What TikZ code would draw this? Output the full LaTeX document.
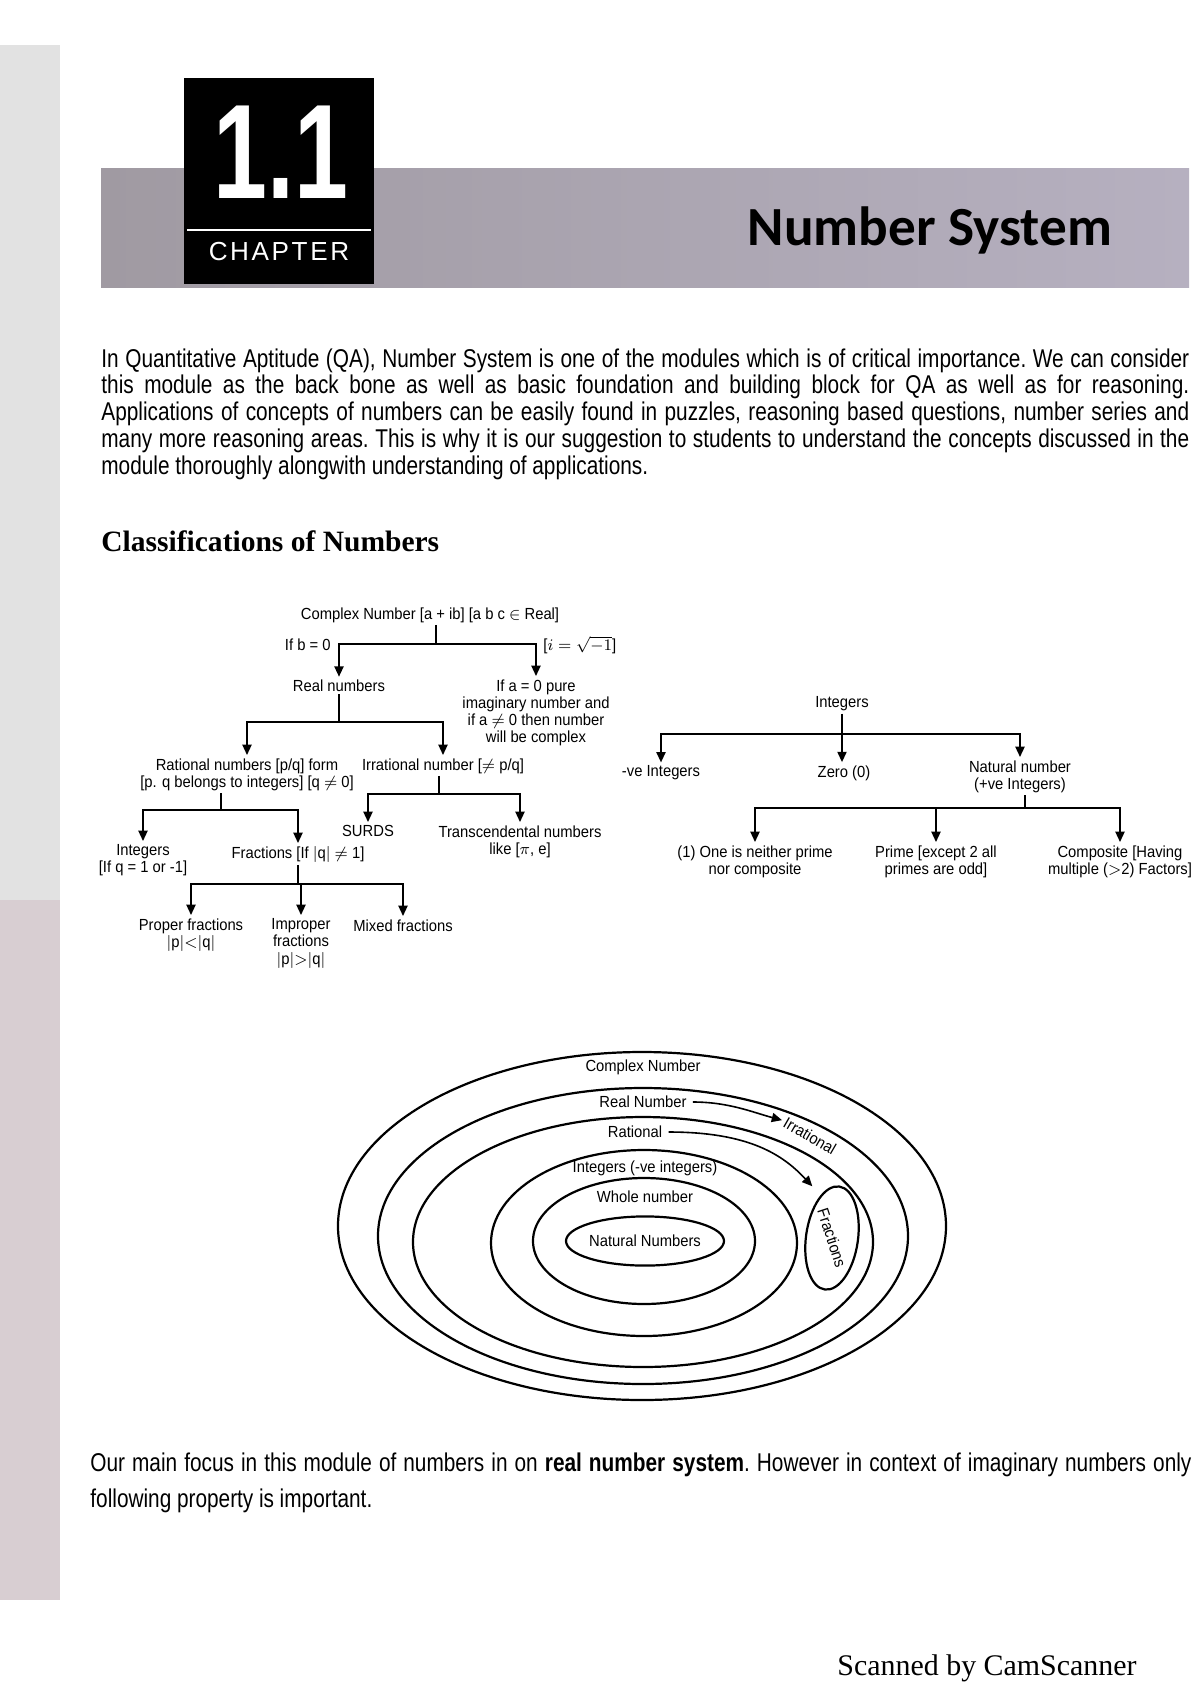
\documentclass[tikz,border=0pt]{standalone}
\usepackage{fontspec}
\setmainfont{Liberation Serif}
\newfontfamily\bodyfont{Liberation Sans}[FakeStretch=0.81]
\newfontfamily\labelfont{Liberation Sans}[FakeStretch=0.92]
\newfontfamily\chapfont{Liberation Sans}[FakeStretch=0.72]
\newfontfamily\capfont{Liberation Sans}[LetterSpace=10]
\newfontfamily\titlefont{Carlito}
\usetikzlibrary{arrows.meta, positioning, shapes.geometric}
\definecolor{BandDark}{RGB}{160,154,162}
\definecolor{BandLight}{RGB}{212,206,230}
\definecolor{BandRight}{RGB}{182,176,192}
\definecolor{SpineGray}{RGB}{226,226,226}
\definecolor{SpinePink}{RGB}{216,206,210}
\newlength{\introwidth}\setlength{\introwidth}{19.04cm}
\newlength{\outrowidth}\setlength{\outrowidth}{19.27cm}
\newcommand{\jline}[1]{\makebox[\introwidth][s]{#1}}
\newcommand{\loosespace}{\frenchspacing\spaceskip=0.22em plus 1em minus 0.04em\relax}

\begin{document}
\begin{tikzpicture}[
    x=0.0175cm, y=-0.0175cm,
    lbl/.style={font=\labelfont\fontsize{8}{8.6}\selectfont, inner sep=1pt, align=center},
    link/.style={line width=0.8pt},
    flow/.style={link, -{Triangle[length=1.8mm, width=1.6mm]}, shorten >=0.5pt},
    ring/.style={line width=1.1pt},
]
\useasboundingbox (0,0) rectangle (1200,1698);

% page edge
\fill[SpineGray] (0,45) rectangle (60,1600);
\fill[SpinePink] (0,900) rectangle (60,1600);

% ============ chapter header ============
\shade[left color=BandDark, middle color=BandLight, right color=BandRight] (101,168) rectangle (1189,287);
\fill[black] (184,78) rectangle (374,284);
\node[text=white, font=\chapfont\bfseries\fontsize{67}{67}\selectfont, inner sep=0] (chapnum) at (281,152) {1.1};
\draw[white, line width=1.2pt] (187,230) -- (371,230);
\node[text=white, font=\capfont\fontsize{13}{13}\selectfont] (chaplbl) at (279,252) {CHAPTER};
\node[font=\titlefont\bfseries\fontsize{27.5}{28}\selectfont, anchor=east] (title) at (1119,230) {Number System};

% ============ intro ============
\node[anchor=north west, inner sep=0, text width=\introwidth, align=left,
      font=\bodyfont\fontsize{12.8}{13.4}\selectfont] (intro) at (101,348)
    {\loosespace
     \jline{In Quantitative Aptitude (QA), Number System is one of the modules which is of critical importance. We can consider}\\
     \jline{this module as the back bone as well as basic foundation and building block for QA as well as for reasoning.}\\
     \jline{Applications of concepts of numbers can be easily found in puzzles, reasoning based questions, number series and}\\
     \jline{many more reasoning areas. This is why it is our suggestion to students to understand the concepts discussed in the}\\
     module thoroughly alongwith understanding of applications.};

\node[anchor=west, font=\bfseries\fontsize{14.7}{16}\selectfont, inner sep=0] (heading) at (101,541) {Classifications of Numbers};

% ============ tree: complex numbers ============
\node[lbl] (cplx) at (430,615) {Complex Number [a + ib] [a b c $\in$ Real]};
\coordinate (cbar) at (436,644);
\node[lbl] (real) at (339,686) {Real numbers};
\node[lbl, anchor=north] (imag) at (536,677) {If a = 0 pure\\imaginary number and\\if a $\neq$ 0 then number\\will be complex};
\draw[link] (cplx.south -| cbar) -- (cbar);
\draw[flow] (cbar) -| (real.north);
\draw[flow] (cbar) -| (imag.north);
\node[lbl, anchor=east] (ifb) at (333,645) {If b = 0};
\node[lbl, anchor=west] (iota) at (541,645) {[$i=\sqrt{-1}$]};

% real -> rational / irrational
\coordinate (rbar) at (339,722);
\node[lbl, anchor=north] (ratl) at (247,756) {Rational numbers [p/q] form\\{}[p. q belongs to integers] [q $\neq$ 0]};
\node[lbl, anchor=north] (irr) at (443,756) {Irrational number [$\neq$ p/q]};
\draw[link] (real.south) -- (rbar);
\draw[flow] (rbar) -| (ratl.north);
\draw[flow] (rbar) -| (irr.north);

% rational -> integers / fractions
\coordinate (qbar) at (221,810);
\node[lbl, anchor=north] (ints) at (143,842) {Integers\\{}[If q = 1 or -1]};
\node[lbl, anchor=north] (fracs) at (298,844) {Fractions [If $|$q$|$ $\neq$ 1]};
\draw[link] (ratl.south -| qbar) -- (qbar);
\foreach \c in {ints,fracs} \draw[flow] (qbar) -| (\c.north);

% fractions -> kinds
\coordinate (fbar) at (298,884);
\node[lbl, anchor=north] (proper) at (191,916) {Proper fractions\\$|$p$|$$<$$|$q$|$};
\node[lbl, anchor=north] (improper) at (301,916) {Improper\\fractions\\$|$p$|$$>$$|$q$|$};
\node[lbl, anchor=north] (mixed) at (403,917) {Mixed fractions};
\draw[link] (fracs.south) -- (fbar);
\foreach \c in {proper,improper,mixed} \draw[flow] (fbar) -| (\c.north);

% irrational -> surds / transcendental
\coordinate (xbar) at (439,794);
\node[lbl, anchor=north] (surds) at (368,823) {SURDS};
\node[lbl, anchor=north] (trans) at (520,823) {Transcendental numbers\\like [$\pi$, e]};
\draw[link] (irr.south -| xbar) -- (xbar);
\foreach \c in {surds,trans} \draw[flow] (xbar) -| (\c.north);

% ============ tree: integers ============
\node[lbl] (intg) at (842,704) {Integers};
\node[lbl] (neg) at (661,773) {-ve Integers};
\node[lbl] (zero) at (844,773) {Zero (0)};
\node[lbl, anchor=north] (nat) at (1020,758) {Natural number\\(+ve Integers)};
\coordinate (ibar) at (842,734);
\draw[flow] (intg.south) -- (intg.south |- zero.north);
\draw[flow] (ibar) -| (neg.north);
\draw[flow] (ibar) -| (nat.north);

\coordinate (nbar) at (1025,808);
\node[lbl, anchor=north] (one) at (755,843) {(1) One is neither prime\\nor composite};
\node[lbl, anchor=north] (prime) at (936,843) {Prime [except 2 all\\primes are odd]};
\node[lbl, anchor=north] (comp) at (1120,843) {Composite [Having\\multiple ($>$2) Factors]};
\draw[link] (nat.south -| nbar) -- (nbar);
\foreach \c in {one,prime,comp} \draw[flow] (nbar) -| (\c.north);

% ============ nested sets ============
\draw[ring] (642,1226) ellipse [x radius=304, y radius=174];
\draw[ring] (643,1236) ellipse [x radius=265, y radius=148];
\draw[ring] (643,1242) ellipse [x radius=230, y radius=125];
\draw[ring] (644,1243) ellipse [x radius=153, y radius=93];
\draw[ring] (644,1241) ellipse [x radius=111, y radius=63];
\node[lbl, ring, draw, ellipse, minimum width=2.62cm, minimum height=0.86cm, inner sep=0] (natural) at (645,1241) {Natural Numbers};

\node[lbl] (lcplx) at (643,1067) {Complex Number};
\node[lbl] (lreal) at (643,1102) {Real Number};
\node[lbl] (lrat) at (635,1132) {Rational};
\node[lbl] (lint) at (645,1168) {Integers (-ve integers)};
\node[lbl] (lwhole) at (645,1197) {Whole number};
\node[lbl, rotate=-30] (lirr) at (810,1136) {Irrational};
\node[ring, draw, ellipse, minimum width=0.91cm, minimum height=1.82cm, rotate=-8] (fracring) at (832,1238) {};
\node[lbl, rotate=-72] (lfrac) at (fracring.center) {Fractions};
\coordinate (fracin) at (813,1187);
\draw[flow, shorten <=2pt] (lreal.east) .. controls +(40,0) and +(-30,-8) .. (lirr.west);
\draw[flow, shorten <=2pt] (lrat.east) .. controls +(85,0) and +(-30,-32) .. (fracin);

% ============ closing text ============
\node[anchor=north west, inner sep=0, text width=\outrowidth, align=left,
      font=\bodyfont\fontsize{12.8}{18.4}\selectfont] (outro) at (90,1452)
    {\loosespace
     \makebox[\outrowidth][s]{Our main focus in this module of numbers in on \textbf{real number system}. However in context of imaginary numbers only}\\
     following property is important.};

\node[font=\fontsize{14.9}{16}\selectfont] (scan) at (987,1668) {Scanned by CamScanner};
\end{tikzpicture}
\end{document}
